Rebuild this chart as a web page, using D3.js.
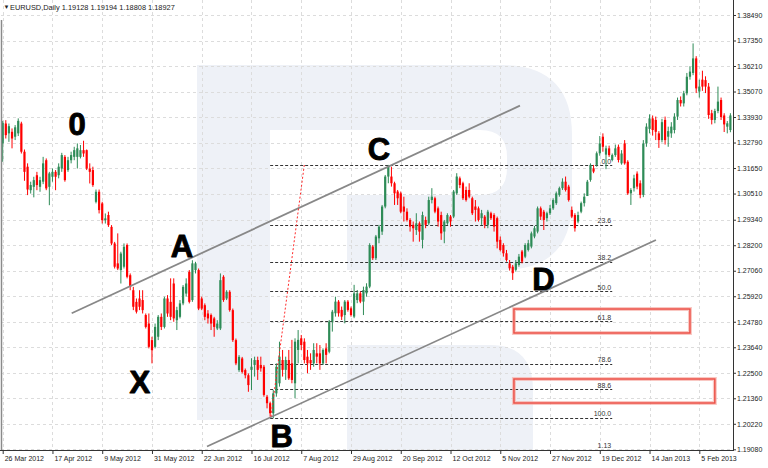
<!DOCTYPE html>
<html><head><meta charset="utf-8">
<script src="https://cdn.jsdelivr.net/npm/d3@7"></script>
<style>
body{margin:0;background:#fff}
svg{display:block}
text{font-family:"Liberation Sans",Arial,sans-serif}
</style>
</head><body><svg id="c" width="768" height="468"></svg>
<script>
// ---- data (EURUSD daily) ----
const opens=[
1.3275,1.3364,1.3320,1.3327,1.3305,1.3320,1.3364,1.3238,1.3171,1.3066,
1.3081,1.3133,1.3081,1.3104,1.3200,1.3081,1.3126,1.3148,1.3133,1.3163,
1.3215,1.3156,1.3200,1.3215,1.3215,1.3215,1.3245,1.3245,1.3163,1.3156,
1.3014,1.3059,1.3007,1.2932,1.2955,1.2902,1.2828,1.2739,1.2709,1.2724,
1.2821,1.2686,1.2619,1.2567,1.2582,1.2575,1.2508,1.2470,1.2396,1.2366,
1.2411,1.2500,1.2455,1.2582,1.2567,1.2649,1.2485,1.2500,1.2560,1.2604,
1.2701,1.2575,1.2709,1.2709,1.2582,1.2552,1.2515,1.2508,1.2493,1.2448,
1.2448,1.2679,1.2582,1.2612,1.2530,1.2396,1.2262,1.2314,1.2262,1.2239,
1.2263,1.2285,1.2307,1.2285,1.2277,1.2143,1.2114,1.2069,1.2158,1.2203,
1.2307,1.2263,1.2307,1.2292,1.2203,1.2352,1.2404,1.2389,1.2322,1.2307,
1.2292,1.2337,1.2337,1.2292,1.2359,1.2344,1.2479,1.2516,1.2568,1.2531,
1.2508,1.2568,1.2538,1.2501,1.2575,1.2605,1.2568,1.2605,1.2635,1.2814,
1.2762,1.2851,1.2881,1.2993,1.3127,1.3127,1.3097,1.3060,1.3052,1.2993,
1.2970,1.2933,1.2911,1.2888,1.2918,1.2844,1.2933,1.2918,1.3022,1.3030,
1.2985,1.2955,1.2881,1.2918,1.2948,1.2948,1.3052,1.3119,1.3097,1.3067,
1.3067,1.3030,1.2993,1.2985,1.2941,1.2948,1.2911,1.2963,1.2955,1.2941,
1.2844,1.2821,1.2784,1.2739,1.2724,1.2710,1.2732,1.2792,1.2769,1.2799,
1.2814,1.2859,1.2881,1.2985,1.2970,1.2941,1.2963,1.2985,1.3008,1.3045,
1.3075,1.3104,1.3082,1.2978,1.2955,1.2926,1.2970,1.3008,1.3040,1.3112,
1.3164,1.3179,1.3231,1.3305,1.3225,1.3253,1.3201,1.3223,1.3260,1.3186,
1.3275,1.3193,1.3052,1.3075,1.3140,1.3097,1.3045,1.3275,1.3340,1.3387,
1.3380,1.3320,1.3290,1.3380,1.3305,1.3320,1.3335,1.3395,1.3469,1.3454,
1.3499,1.3573,1.3590,1.3655,1.3507,1.3560,1.3558,1.3529,1.3410,1.3380,
1.3420,1.3469,1.3400,1.3350,1.3335];
const highs=[
1.3376,1.3379,1.3364,1.3342,1.3357,1.3387,1.3372,1.3248,1.3186,1.3104,
1.3126,1.3148,1.3126,1.3215,1.3208,1.3148,1.3163,1.3156,1.3186,1.3233,
1.3223,1.3215,1.3238,1.3260,1.3275,1.3268,1.3287,1.3248,1.3186,1.3171,
1.3069,1.3069,1.3014,1.2962,1.2970,1.2910,1.2835,1.2873,1.2791,1.2828,
1.2828,1.2694,1.2634,1.2582,1.2619,1.2619,1.2515,1.2515,1.2411,1.2470,
1.2508,1.2515,1.2590,1.2597,1.2672,1.2672,1.2545,1.2575,1.2642,1.2672,
1.2709,1.2753,1.2746,1.2716,1.2590,1.2560,1.2530,1.2515,1.2500,1.2485,
1.2694,1.2686,1.2619,1.2619,1.2537,1.2403,1.2329,1.2321,1.2269,1.2247,
1.2315,1.2322,1.2322,1.2322,1.2285,1.2151,1.2121,1.2173,1.2292,1.2389,
1.2352,1.2322,1.2352,1.2397,1.2404,1.2441,1.2419,1.2404,1.2352,1.2337,
1.2382,1.2382,1.2374,1.2359,1.2382,1.2486,1.2531,1.2590,1.2575,1.2546,
1.2575,1.2575,1.2546,1.2643,1.2620,1.2613,1.2635,1.2650,1.2829,1.2821,
1.2866,1.2911,1.3000,1.3134,1.3179,1.3171,1.3104,1.3067,1.3060,1.3037,
1.2985,1.2941,1.2926,1.2963,1.2926,1.2970,1.2948,1.3037,1.3075,1.3037,
1.2993,1.2970,1.2933,1.2963,1.2955,1.3067,1.3142,1.3127,1.3104,1.3082,
1.3097,1.3037,1.3022,1.2993,1.2978,1.2955,1.2978,1.2970,1.2963,1.2948,
1.2859,1.2829,1.2799,1.2754,1.2732,1.2754,1.2781,1.2799,1.2829,1.2844,
1.2881,1.2906,1.2993,1.2993,1.2978,1.2970,1.3000,1.3030,1.3060,1.3082,
1.3119,1.3127,1.3090,1.2993,1.2963,1.2970,1.3015,1.3052,1.3112,1.3186,
1.3179,1.3239,1.3308,1.3320,1.3265,1.3265,1.3230,1.3270,1.3270,1.3245,
1.3290,1.3200,1.3075,1.3135,1.3150,1.3110,1.3290,1.3365,1.3405,1.3400,
1.3395,1.3330,1.3385,1.3395,1.3350,1.3370,1.3410,1.3480,1.3485,1.3510,
1.3590,1.3620,1.3722,1.3665,1.3560,1.3600,1.3575,1.3545,1.3425,1.3430,
1.3529,1.3480,1.3410,1.3375,1.3410];
const lows=[
1.3193,1.3297,1.3282,1.3253,1.3290,1.3308,1.3230,1.3108,1.3044,1.3051,
1.3034,1.3066,1.3059,1.3093,1.3066,1.2999,1.3104,1.3066,1.3119,1.3148,
1.3104,1.3148,1.3186,1.3200,1.3163,1.3208,1.3215,1.3156,1.3096,1.3081,
1.3007,1.2962,1.2917,1.2917,1.2902,1.2821,1.2716,1.2709,1.2649,1.2716,
1.2672,1.2619,1.2530,1.2515,1.2530,1.2515,1.2448,1.2359,1.2292,1.2359,
1.2396,1.2441,1.2448,1.2500,1.2485,1.2478,1.2441,1.2493,1.2552,1.2590,
1.2560,1.2567,1.2694,1.2530,1.2530,1.2485,1.2470,1.2441,1.2411,1.2441,
1.2441,1.2567,1.2575,1.2523,1.2388,1.2284,1.2254,1.2247,1.2225,1.2165,
1.2173,1.2233,1.2218,1.2255,1.2143,1.2091,1.2054,1.2047,1.2143,1.2188,
1.2233,1.2218,1.2218,1.2203,1.2136,1.2292,1.2352,1.2292,1.2248,1.2263,
1.2277,1.2292,1.2263,1.2285,1.2292,1.2337,1.2434,1.2501,1.2501,1.2486,
1.2471,1.2523,1.2501,1.2494,1.2561,1.2561,1.2508,1.2590,1.2628,1.2754,
1.2754,1.2829,1.2866,1.2985,1.3097,1.3082,1.3000,1.3000,1.2963,1.2926,
1.2926,1.2881,1.2836,1.2866,1.2836,1.2806,1.2896,1.2911,1.3007,1.2963,
1.2903,1.2844,1.2829,1.2911,1.2903,1.2941,1.3045,1.3075,1.3022,1.3015,
1.3030,1.2955,1.2926,1.2926,1.2911,1.2896,1.2896,1.2933,1.2881,1.2806,
1.2792,1.2769,1.2747,1.2707,1.2665,1.2702,1.2724,1.2739,1.2762,1.2792,
1.2806,1.2851,1.2873,1.2933,1.2888,1.2926,1.2955,1.2978,1.3000,1.3037,
1.3067,1.3060,1.3015,1.2941,1.2881,1.2918,1.2963,1.2993,1.3067,1.3104,
1.3142,1.3171,1.3220,1.3238,1.3160,1.3215,1.3195,1.3215,1.3190,1.3180,
1.3180,1.3045,1.3000,1.3060,1.3070,1.3030,1.3035,1.3260,1.3320,1.3310,
1.3290,1.3255,1.3280,1.3270,1.3260,1.3300,1.3320,1.3380,1.3440,1.3440,
1.3490,1.3560,1.3580,1.3500,1.3480,1.3510,1.3500,1.3385,1.3360,1.3365,
1.3410,1.3380,1.3326,1.3320,1.3325];
const closes=[
1.3367,1.3312,1.3352,1.3297,1.3347,1.3376,1.3238,1.3148,1.3069,1.3089,
1.3111,1.3089,1.3111,1.3186,1.3074,1.3141,1.3148,1.3126,1.3171,1.3223,
1.3111,1.3200,1.3223,1.3245,1.3253,1.3245,1.3230,1.3163,1.3148,1.3089,
1.3059,1.2977,1.2932,1.2940,1.2910,1.2828,1.2724,1.2716,1.2783,1.2813,
1.2679,1.2634,1.2545,1.2523,1.2545,1.2530,1.2455,1.2366,1.2351,1.2455,
1.2500,1.2455,1.2582,1.2515,1.2500,1.2493,1.2530,1.2560,1.2634,1.2649,
1.2567,1.2739,1.2739,1.2537,1.2537,1.2500,1.2493,1.2470,1.2455,1.2470,
1.2664,1.2575,1.2612,1.2530,1.2396,1.2292,1.2321,1.2254,1.2239,1.2195,
1.2277,1.2307,1.2263,1.2270,1.2151,1.2114,1.2069,1.2158,1.2277,1.2322,
1.2263,1.2307,1.2225,1.2218,1.2389,1.2397,1.2374,1.2307,1.2292,1.2292,
1.2352,1.2322,1.2292,1.2352,1.2330,1.2479,1.2523,1.2568,1.2516,1.2501,
1.2568,1.2531,1.2508,1.2605,1.2605,1.2568,1.2620,1.2635,1.2821,1.2762,
1.2859,1.2903,1.2993,1.3127,1.3171,1.3097,1.3052,1.3030,1.2970,1.2970,
1.2933,1.2903,1.2896,1.2918,1.2881,1.2955,1.2911,1.3022,1.3037,1.2970,
1.2926,1.2873,1.2926,1.2955,1.2926,1.3060,1.3127,1.3089,1.3030,1.3022,
1.3037,1.2963,1.2978,1.2933,1.2963,1.2911,1.2970,1.2941,1.2903,1.2836,
1.2799,1.2784,1.2754,1.2717,1.2695,1.2739,1.2769,1.2747,1.2821,1.2829,
1.2873,1.2896,1.2985,1.2948,1.2933,1.2963,1.2985,1.3022,1.3052,1.3075,
1.3104,1.3067,1.3022,1.2948,1.2896,1.2955,1.3008,1.3037,1.3104,1.3179,
1.3149,1.3231,1.3275,1.3260,1.3253,1.3223,1.3223,1.3253,1.3201,1.3230,
1.3186,1.3052,1.3067,1.3119,1.3082,1.3045,1.3275,1.3350,1.3387,1.3335,
1.3327,1.3290,1.3370,1.3290,1.3330,1.3350,1.3395,1.3469,1.3454,1.3499,
1.3573,1.3596,1.3655,1.3521,1.3529,1.3529,1.3529,1.3402,1.3380,1.3420,
1.3462,1.3393,1.3360,1.3365,1.3400];

const xTickLabels=["26 Mar 2012","17 Apr 2012","9 May 2012","31 May 2012","22 Jun 2012","16 Jul 2012","7 Aug 2012","29 Aug 2012","20 Sep 2012","12 Oct 2012","5 Nov 2012","27 Nov 2012","19 Dec 2012","14 Jan 2013","5 Feb 2013"];
const barsPerTick=16;
const yTicks=[1.38490,1.37350,1.36210,1.35070,1.33930,1.32790,1.31650,1.30510,1.29340,1.28200,1.27060,1.25920,1.24780,1.23640,1.22500,1.21360,1.20220,1.19080];
const headerText="EURUSD,Daily  1.19128 1.19194 1.18808 1.18927";

// Fibonacci retracement (B low -> C high)
const fibHigh=1.31786, fibLow=1.20479, fibFrom=86, fibTo=196;
const fibRatios=[0,23.6,38.2,50,61.8,78.6,88.6,100,113];
const fibLabels=["0.0","23.6","38.2","50.0","61.8","78.6","88.6","100.0","1.13"];

// Drawn objects (bar index, price)
const upperChannel=[[22.19,1.25158],[166.33,1.34441]];
const lowerChannel=[[65.69,1.19205],[210.06,1.28434]];
const redDotted=[[86.27,1.20537],[96.98,1.31786]];
const zones=[[164.4,221.0,1.25350,1.24278],[164.4,229.0,1.22222,1.21149]];
const waveNames=["0","X","A","B","C","D"];
const waveBar=[23.9,44.1,57.6,89.7,121.0,173.9];
const wavePrice=[1.33127,1.21596,1.27674,1.19196,1.32010,1.26200];

// ---- drawing ----
const svg=d3.select("#c");
const N=closes.length;
const plotR=733, plotB=450;
const x=d3.scaleLinear().domain([0,234]).range([2.7,730.4]);
const y=d3.scaleLinear().domain([1.19080,1.38490]).range([449.3,15]);

svg.append("defs").append("clipPath").attr("id","clip")
  .append("rect").attr("x",1).attr("y",0).attr("width",plotR-1).attr("height",plotB);

// watermark logo
const wm=svg.append("g").attr("fill","#eef1f7");
wm.append("rect").attr("x",197).attr("y",65).attr("width",73).attr("height",355);
wm.append("path").attr("d","M270,65 H502 Q572,65 572,135 V200 Q572,270 502,270 H347 V195 H480 Q507,195 507,168 V157 Q507,130 480,130 H270 Z");
wm.append("path").attr("d","M347,345 H490 Q533,345 533,390 V450 H347 Z");

// grid
const g=svg.append("g").attr("stroke","#dcdcdc").attr("stroke-width",1).attr("stroke-dasharray","3,3");
const xTickIdx=xTickLabels.map((d,i)=>i*barsPerTick);
g.selectAll("line.v").data(xTickIdx).join("line")
  .attr("x1",d=>Math.round(x(d))+0.5).attr("x2",d=>Math.round(x(d))+0.5).attr("y1",0).attr("y2",plotB);
g.selectAll("line.h").data(yTicks).join("line")
  .attr("x1",1).attr("x2",plotR).attr("y1",d=>Math.round(y(d))+0.5).attr("y2",d=>Math.round(y(d))+0.5);

const plot=svg.append("g").attr("clip-path","url(#clip)");

// fib levels
const fibPrice=r=>fibHigh-(fibHigh-fibLow)*r/100;
const fg=plot.append("g");
fg.selectAll("line").data(fibRatios).join("line")
  .attr("x1",x(fibFrom)).attr("x2",x(fibTo))
  .attr("y1",d=>Math.round(y(fibPrice(d)))+0.5).attr("y2",d=>Math.round(y(fibPrice(d)))+0.5)
  .attr("stroke","#333").attr("stroke-width",1).attr("stroke-dasharray","3,2");
fg.selectAll("text").data(fibRatios).join("text")
  .attr("x",x(fibTo)-1).attr("y",d=>Math.min(y(fibPrice(d))-1.5,448))
  .attr("text-anchor","end").attr("font-size",7).attr("fill","#333")
  .text((d,i)=>fibLabels[i]);

// candles
const idx=d3.range(N);
const up="#2e8b57", dn="#ff0000";
const cg=plot.append("g");
cg.selectAll("line").data(idx).join("line")
  .attr("x1",i=>x(i)).attr("x2",i=>x(i))
  .attr("y1",i=>y(highs[i])).attr("y2",i=>y(lows[i]))
  .attr("stroke",i=>closes[i]>=opens[i]?up:dn).attr("stroke-width",1);
cg.selectAll("rect").data(idx).join("rect")
  .attr("x",i=>x(i)-1.1).attr("width",2.2)
  .attr("y",i=>y(Math.max(opens[i],closes[i])))
  .attr("height",i=>Math.max(1,Math.abs(y(opens[i])-y(closes[i]))))
  .attr("fill",i=>closes[i]>=opens[i]?up:dn);

// channel lines
const ln=d3.line().x(d=>x(d[0])).y(d=>y(d[1]));
[upperChannel,lowerChannel].forEach(l=>{
  plot.append("path").attr("d",ln(l)).attr("fill","none").attr("stroke","#888").attr("stroke-width",1.8);
});
plot.append("path").attr("d",ln(redDotted)).attr("fill","none").attr("stroke","#ff2a2a")
  .attr("stroke-width",1).attr("stroke-dasharray","2,2");

// zones
zones.forEach(z=>{
  const rx=x(z[0]), rw=x(z[1])-x(z[0]), ry=y(z[2]), rh=y(z[3])-y(z[2]);
  plot.append("rect").attr("x",rx).attr("y",ry).attr("width",rw).attr("height",rh)
    .attr("fill","none").attr("stroke","#f6b0aa").attr("stroke-width",4).attr("opacity",0.7);
  plot.append("rect").attr("x",rx).attr("y",ry).attr("width",rw).attr("height",rh)
    .attr("fill","none").attr("stroke","#ec5148").attr("stroke-width",1.5);
});

// wave labels
svg.append("g").selectAll("text").data(waveNames).join("text")
  .attr("x",(d,i)=>x(waveBar[i])).attr("y",(d,i)=>y(wavePrice[i]))
  .attr("text-anchor","middle").attr("font-size",31).attr("font-weight","bold")
  .attr("fill","#000").attr("stroke","#000").attr("stroke-width",0.9).attr("stroke-linejoin","round")
  .text(d=>d);

// frame & axes
svg.append("line").attr("x1",1.5).attr("x2",1.5).attr("y1",20).attr("y2",plotB).attr("stroke","#8a8a8a").attr("stroke-width",1.5);
const xa=svg.append("g").attr("transform",`translate(0,${plotB})`)
  .call(d3.axisBottom(x).tickValues(xTickIdx).tickFormat((d,i)=>xTickLabels[i]).tickSize(4).tickPadding(2));
xa.select(".domain").remove();
xa.selectAll(".tick line").attr("stroke","#333");
xa.selectAll(".tick text").attr("text-anchor","start").attr("x",1.5).attr("font-size",7)
  .attr("font-family","Liberation Sans, Arial, sans-serif").attr("fill","#222");
svg.append("line").attr("x1",0).attr("x2",plotR).attr("y1",plotB+0.5).attr("y2",plotB+0.5).attr("stroke","#333");

const ya=svg.append("g").attr("transform",`translate(${plotR},0)`)
  .call(d3.axisRight(y).tickValues(yTicks).tickFormat(d3.format(".5f")).tickSize(3).tickPadding(1));
ya.select(".domain").remove();
ya.selectAll(".tick line").attr("stroke","#333");
ya.selectAll(".tick text").attr("font-size",7).attr("font-family","Liberation Sans, Arial, sans-serif").attr("fill","#222");
svg.append("line").attr("x1",plotR+0.5).attr("x2",plotR+0.5).attr("y1",0).attr("y2",plotB+1).attr("stroke","#333");

// header
svg.append("text").attr("x",3.5).attr("y",9).attr("font-size",6).attr("fill","#222").text("\u25BC");
svg.append("text").attr("x",10).attr("y",10).attr("font-size",7.4).attr("fill","#222").text(headerText);
</script>
</body></html>
